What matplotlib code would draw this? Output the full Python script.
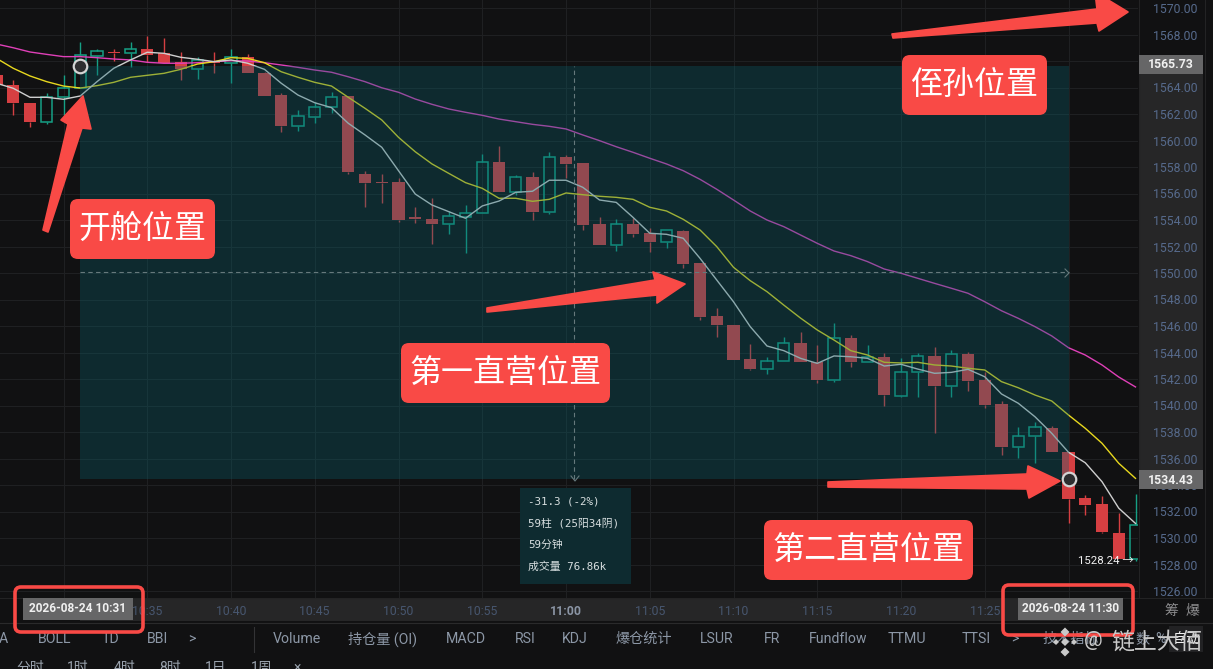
import matplotlib
matplotlib.use('Agg')
import matplotlib.pyplot as plt
from matplotlib.patches import Rectangle, FancyBboxPatch, Polygon

plt.rcParams['font.family'] = ['Roboto', 'Noto Sans CJK SC', 'DejaVu Sans']

# candles, one per minute from 10:26 to 11:34
start_minute = 626
opens = [1564.94, 1564.19, 1562.80, 1561.40, 1563.25, 1563.95, 1566.40, 1566.70, 1566.63, 1566.88,
         1566.58, 1565.90, 1565.42, 1566.02, 1565.83, 1566.28, 1565.07, 1563.43, 1561.12, 1561.80,
         1562.50, 1563.36, 1557.50, 1556.90, 1556.90, 1554.23, 1554.08, 1553.72, 1554.20, 1554.50,
         1558.36, 1556.14, 1557.22, 1554.63, 1558.73, 1558.30, 1553.68, 1552.14, 1553.70, 1553.00,
         1552.36, 1553.17, 1550.73, 1546.75, 1546.08, 1543.50, 1542.78, 1543.33, 1544.72, 1543.30,
         1541.92, 1545.07, 1543.30, 1543.63, 1540.75, 1542.50, 1543.74, 1541.50, 1543.89, 1541.92,
         1540.10, 1536.90, 1537.72, 1538.30, 1536.50, 1533.00, 1532.57, 1530.35, 1528.40]
closes = [1564.19, 1562.80, 1561.40, 1563.25, 1563.95, 1566.45, 1566.73, 1566.63, 1566.88, 1566.45,
          1565.83, 1565.40, 1566.08, 1565.83, 1566.33, 1565.07, 1563.38, 1561.12, 1561.87, 1562.50,
          1563.30, 1557.65, 1556.80, 1556.80, 1554.00, 1554.08, 1553.72, 1554.32, 1554.50, 1558.36,
          1556.14, 1557.22, 1554.63, 1558.73, 1558.25, 1553.62, 1552.11, 1553.68, 1552.94, 1552.36,
          1553.22, 1550.70, 1546.70, 1546.08, 1543.46, 1542.75, 1543.33, 1544.70, 1543.30, 1541.92,
          1545.07, 1543.30, 1543.68, 1540.79, 1542.50, 1543.71, 1541.50, 1543.86, 1541.85, 1540.04,
          1536.90, 1537.72, 1538.35, 1536.50, 1532.94, 1532.50, 1530.45, 1528.40, 1530.95]
highs = [1565.20, 1564.60, 1562.80, 1563.60, 1564.94, 1567.40, 1566.90, 1566.93, 1567.46, 1567.89,
         1567.71, 1566.70, 1566.28, 1566.70, 1566.88, 1566.50, 1565.20, 1563.56, 1562.30, 1562.93,
         1563.68, 1563.36, 1557.70, 1557.50, 1557.20, 1555.00, 1555.68, 1554.68, 1555.13, 1558.98,
         1559.58, 1557.40, 1557.60, 1559.10, 1558.90, 1558.30, 1554.20, 1554.06, 1554.13, 1553.37,
         1553.27, 1553.25, 1550.73, 1547.33, 1546.08, 1544.64, 1543.68, 1545.15, 1545.57, 1544.57,
         1546.25, 1545.32, 1544.57, 1543.94, 1543.60, 1543.94, 1544.39, 1544.20, 1544.06, 1542.55,
         1540.34, 1538.35, 1538.77, 1538.45, 1536.50, 1533.25, 1533.20, 1531.85, 1533.35]
lows = [1564.19, 1561.90, 1561.04, 1561.25, 1561.90, 1563.95, 1564.94, 1566.02, 1565.57, 1565.95,
        1565.83, 1564.60, 1564.62, 1565.07, 1564.32, 1565.07, 1563.38, 1560.66, 1560.74, 1561.30,
        1562.05, 1557.50, 1555.00, 1555.30, 1553.87, 1553.75, 1552.20, 1552.92, 1551.53, 1554.50,
        1556.14, 1555.90, 1554.00, 1554.43, 1557.15, 1553.25, 1552.11, 1551.68, 1552.74, 1551.60,
        1551.86, 1550.40, 1546.45, 1545.20, 1543.46, 1542.70, 1542.38, 1543.33, 1543.30, 1541.67,
        1541.80, 1542.93, 1543.30, 1540.00, 1540.62, 1540.62, 1537.95, 1540.66, 1541.10, 1539.83,
        1536.26, 1536.06, 1535.64, 1536.50, 1531.15, 1531.74, 1530.40, 1528.40, 1528.30]

ma5 = [1564.32, 1563.94, 1563.26, 1563.26, 1563.11, 1563.36, 1564.44, 1565.45, 1566.08, 1566.66,
       1566.58, 1566.28, 1566.13, 1565.95, 1566.08, 1565.83, 1565.37, 1564.32, 1563.43, 1562.85,
       1562.48, 1561.30, 1560.42, 1559.49, 1557.72, 1555.96, 1555.13, 1554.63, 1554.13, 1555.06,
       1555.43, 1556.09, 1556.17, 1557.00, 1557.00, 1556.47, 1555.51, 1555.33, 1554.20, 1553.00,
       1552.92, 1552.62, 1551.11, 1549.47, 1547.83, 1545.95, 1544.49, 1544.14, 1543.56, 1543.18,
       1543.74, 1543.68, 1543.56, 1542.98, 1543.11, 1542.75, 1542.43, 1542.50, 1542.73, 1542.17,
       1540.87, 1540.17, 1539.15, 1537.90, 1536.47, 1535.68, 1534.25, 1532.25, 1531.10]
ma10 = [1566.20, 1565.45, 1564.87, 1564.44, 1564.11, 1563.96, 1564.14, 1564.39, 1564.77, 1564.92,
        1565.07, 1565.37, 1565.77, 1565.95, 1566.25, 1566.20, 1565.87, 1565.19, 1564.77, 1564.39,
        1564.11, 1563.26, 1562.43, 1561.55, 1560.24, 1559.15, 1558.23, 1557.52, 1556.82, 1556.39,
        1555.64, 1555.64, 1555.41, 1555.56, 1556.04, 1555.91, 1555.79, 1555.71, 1555.56, 1554.96,
        1554.68, 1554.05, 1553.25, 1551.99, 1550.43, 1549.42, 1548.59, 1547.58, 1546.60, 1545.70,
        1544.94, 1544.14, 1543.81, 1543.26, 1543.21, 1543.26, 1543.06, 1542.98, 1542.81, 1542.68,
        1541.80, 1541.34, 1540.79, 1540.34, 1539.28, 1538.28, 1537.15, 1535.64, 1534.50]
ma30 = [1567.28, 1567.00, 1566.68, 1566.50, 1566.33, 1566.33, 1566.25, 1566.15, 1566.08, 1565.90,
        1565.83, 1565.83, 1565.87, 1565.95, 1566.02, 1566.00, 1565.87, 1565.70, 1565.52, 1565.32,
        1565.15, 1564.81, 1564.44, 1563.98, 1563.64, 1563.13, 1562.73, 1562.38, 1562.13, 1561.90,
        1561.62, 1561.42, 1561.22, 1561.07, 1560.87, 1560.42, 1559.99, 1559.53, 1559.11, 1558.66,
        1558.23, 1557.72, 1557.07, 1556.32, 1555.51, 1554.68, 1554.00, 1553.50, 1552.87, 1552.24,
        1551.66, 1551.31, 1550.86, 1550.30, 1549.98, 1549.60, 1549.22, 1548.85, 1548.47, 1547.83,
        1547.15, 1546.58, 1545.95, 1545.25, 1544.36, 1543.81, 1543.06, 1542.15, 1541.40]

price_ticks = list(range(1526, 1572, 2))
time_ticks = [630, 635, 640, 645, 650, 655, 660, 665, 670, 675, 680, 685, 690]
time_labels = ['10:30', '10:35', '10:40', '10:45', '10:50', '10:55', '11:00', '11:05', '11:10',
               '11:15', '11:20', '11:25', '11:30']

entry_minute, exit_minute = 631, 690
entry_price, exit_price = 1565.65, 1534.43

toolbar = [('A', 3), ('BOLL', 55), ('TD', 110), ('BBI', 158), ('>', 192), ('Volume', 297),
           ('持仓量 (OI)', 383), ('MACD', 466), ('RSI', 525), ('KDJ', 575), ('爆仓统计', 644),
           ('LSUR', 717), ('FR', 772), ('Fundflow', 838), ('TTMU', 907), ('TTSI', 976), ('>', 1015),
           ('技术指标', 1071), ('数', 1143), ('%', 1160), ('自动', 1187)]
periods = [('分时', 30), ('1时', 78), ('4时', 124), ('8时', 170), ('1日', 216), ('1周', 262), ('×', 297)]
tooltip = ['-31.3 (-2%)', '59柱 (25阳34阴)', '59分钟', '成交量 76.86k']

# callouts
red = '#f94a46'
boxes = [('开舱位置', 70, 199, 145, 60), ('第一直营位置', 401, 343, 209, 60),
         ('第二直营位置', 764, 520, 209, 60), ('侄孙位置', 902, 55, 145, 60)]
arrows = [[(892, 34), (1097, 9), (1095, -8), (1128, 12), (1099, 31), (1097, 23), (893, 38)],
          [(43, 230), (68, 124), (61, 120), (83, 96), (91, 129), (82, 128), (48, 232)],
          [(487, 308), (655, 280), (653, 272), (685, 284), (657, 303), (657, 295), (487, 312)],
          [(828, 482), (1027, 474), (1028, 466), (1060, 481), (1029, 498), (1027, 489), (828, 487)]]

bg = '#111112'
up = '#16a085'
down = '#d63f42'
W, H = 1213, 669
plot_w, plot_h = 1138, 598

fig = plt.figure(figsize=(W / 100, H / 100), dpi=100, facecolor=bg)

# layer under the chart, in pixels
under = fig.add_axes([0, 0, 1, 1], zorder=-1)
under.set_xlim(0, W)
under.set_ylim(H, 0)
under.axis('off')
under.add_patch(Rectangle((1139, 65), 64, 415, color='#262627', lw=0))
under.add_patch(Rectangle((80, 599), 989, 22, color='#262627', lw=0))
under.plot([1139, 1139], [0, 598], color='#232324', lw=0.8)
under.plot([1205, 1205], [0, 598], color='#232324', lw=0.8)
under.plot([0, 1213], [598, 598], color='#232324', lw=0.8)
under.plot([0, 1213], [623, 623], color='#2a2a2b', lw=0.8)
under.plot([254, 254], [627, 652], color='#333335', lw=0.8)

# chart
ax = fig.add_axes([0, 1 - plot_h / H, plot_w / W, plot_h / H], zorder=1)
ax.set_facecolor('none')
ax.set_xlim(640 - 231 / 16.75, 640 + (plot_w - 231) / 16.75)
ax.set_ylim(1570 - 590 / 13.25, 1570 + 8 / 13.25)
for s in ax.spines.values():
    s.set_visible(False)
ax.yaxis.tick_right()
ax.set_yticks(price_ticks)
ax.set_yticklabels(['%.2f' % p for p in price_ticks], fontsize=8.8, color='#566a8c')
ax.set_xticks(time_ticks)
ax.set_xticklabels(time_labels, fontsize=8.8, color='#47566f')
ax.get_xticklabels()[6].set_color('#8b95a5')
ax.get_xticklabels()[6].set_fontweight('bold')
ax.tick_params(axis='y', length=0, pad=11)
ax.tick_params(axis='x', length=0, pad=5)
ax.grid(True, color='#1f2022', lw=0.8, zorder=0)
ax.set_axisbelow(True)

for i in range(len(opens)):
    m = start_minute + i
    o, c, h, l = opens[i], closes[i], highs[i], lows[i]
    col = up if c >= o else down
    ax.vlines(m, max(o, c), h, color=col, lw=1.0, zorder=3)
    ax.vlines(m, l, min(o, c), color=col, lw=1.0, zorder=3)
    if c >= o:
        ax.bar(m, c - o, 0.68, bottom=o, facecolor='none', edgecolor=col, lw=1.1, zorder=3)
    else:
        ax.bar(m, o - c, 0.74, bottom=c, color=col, lw=0, zorder=3)

minutes = [start_minute + i for i in range(len(opens))]
ax.plot(minutes, ma30, color='#e040b8', lw=1.0, zorder=4)
ax.plot(minutes, ma10, color='#e8d81e', lw=1.0, zorder=4)
ax.plot(minutes, ma5, color='#cfcfcf', lw=1.0, zorder=4)

# measured range
ax.add_patch(Rectangle((entry_minute, exit_price), exit_minute - entry_minute, entry_price - exit_price,
                       facecolor='#08606d', alpha=0.33, lw=0, zorder=5))
mid_minute = (entry_minute + exit_minute) / 2
mid_price = (entry_price + exit_price) / 2
ax.plot([entry_minute, exit_minute], [mid_price, mid_price], color='#66797c', lw=0.8, ls=(0, (4, 3)), zorder=6)
ax.plot([mid_minute, mid_minute], [exit_price, entry_price], color='#66797c', lw=0.8, ls=(0, (4, 3)), zorder=6)
ax.scatter([entry_minute, exit_minute], [entry_price, exit_price], s=95, facecolor='#2e2e30',
           edgecolor='#d4d4d4', lw=1.6, zorder=7)

# overlay in pixels
ov = fig.add_axes([0, 0, 1, 1], zorder=2)
ov.set_facecolor('none')
ov.set_xlim(0, W)
ov.set_ylim(H, 0)
ov.axis('off')

ov.plot([1065, 1069, 1065], [269, 273, 277], color='#66797c', lw=0.8)
ov.plot([571, 575, 579], [476, 481, 476], color='#66797c', lw=0.8)

# price tags
ov.add_patch(Rectangle((1139, 55), 64, 19, color='#666667', lw=0))
ov.text(1171, 65, '1565.73', color='#f0f0f0', fontsize=8.8, fontweight='bold', ha='center', va='center')
ov.add_patch(Rectangle((1139, 470), 64, 19, color='#666667', lw=0))
ov.text(1171, 480, '1534.43', color='#f0f0f0', fontsize=8.8, fontweight='bold', ha='center', va='center')
ov.text(1078, 561, '1528.24 →', color='#f2f2f2', fontsize=8.2, ha='left', va='center')

# tooltip
ov.add_patch(Rectangle((520, 488), 111, 96, color='#0e2b30', lw=0))
for i, line in enumerate(tooltip):
    ov.text(528, 501 + i * 22, line, color='#d8dfe0', fontsize=7.8, ha='left', va='center',
            family=['DejaVu Sans Mono', 'Noto Sans CJK SC'])

# time labels
ov.add_patch(Rectangle((23, 598), 110, 22, color='#666667', lw=0))
ov.text(78, 609, '2026-08-24 10:31', color='#f0f0f0', fontsize=8.6, fontweight='bold', ha='center', va='center')
ov.add_patch(Rectangle((1018, 598), 105, 22, color='#666667', lw=0))
ov.text(1071, 609, '2026-08-24 11:30', color='#f0f0f0', fontsize=8.6, fontweight='bold', ha='center', va='center')
ov.text(1171, 611, '筹', color='#8d8d8f', fontsize=10, ha='center', va='center')
ov.text(1192, 611, '爆', color='#8d8d8f', fontsize=10, ha='center', va='center')

# toolbars
ov.add_patch(Rectangle((1169, 626), 34, 26, color='#222224', lw=0))
for label, x in toolbar:
    col = '#f0f0f0' if label == '自动' else '#8c97a6'
    ov.text(x, 639, label, color=col, fontsize=10.2, ha='center', va='center')
for label, x in periods:
    ov.text(x, 668, label, color='#9aa3ae', fontsize=10, ha='center', va='center')

# red callouts
for verts in arrows:
    ov.add_patch(Polygon(verts, closed=True, facecolor=red, edgecolor=red, lw=1.2, joinstyle='round', zorder=8))
for label, x, y, w, h in boxes:
    ov.add_patch(FancyBboxPatch((x, y), w, h, boxstyle='round,pad=0,rounding_size=8', facecolor=red, lw=0, zorder=8))
    ov.text(x + w / 2, y + h / 2, label, color='white', fontsize=23, ha='center', va='center', zorder=9)
ov.add_patch(FancyBboxPatch((15, 587), 128, 45, boxstyle='round,pad=0,rounding_size=6', facecolor='none',
                            edgecolor=red, lw=2.6, zorder=8))
ov.add_patch(FancyBboxPatch((1003, 585), 130, 50, boxstyle='round,pad=0,rounding_size=6', facecolor='none',
                            edgecolor=red, lw=2.6, zorder=8))

# watermark
logo = '#c9c9c9'
for cx, cy, r in [(1065, 642, 4), (1065, 632, 4.5), (1065, 652, 4.5), (1056, 642, 3), (1074, 642, 3)]:
    ov.add_patch(Polygon([(cx, cy - r), (cx + r, cy), (cx, cy + r), (cx - r, cy)], facecolor=logo, lw=0, zorder=10))
ov.text(1093, 641, '@', color='#c9c9c9', fontsize=15, ha='center', va='center', zorder=10)
ov.text(1157, 642, '链上大佰', color='#c9c9c9', fontsize=16.5, ha='center', va='center', zorder=10)

fig.savefig('out.png', dpi=100, facecolor=bg)
